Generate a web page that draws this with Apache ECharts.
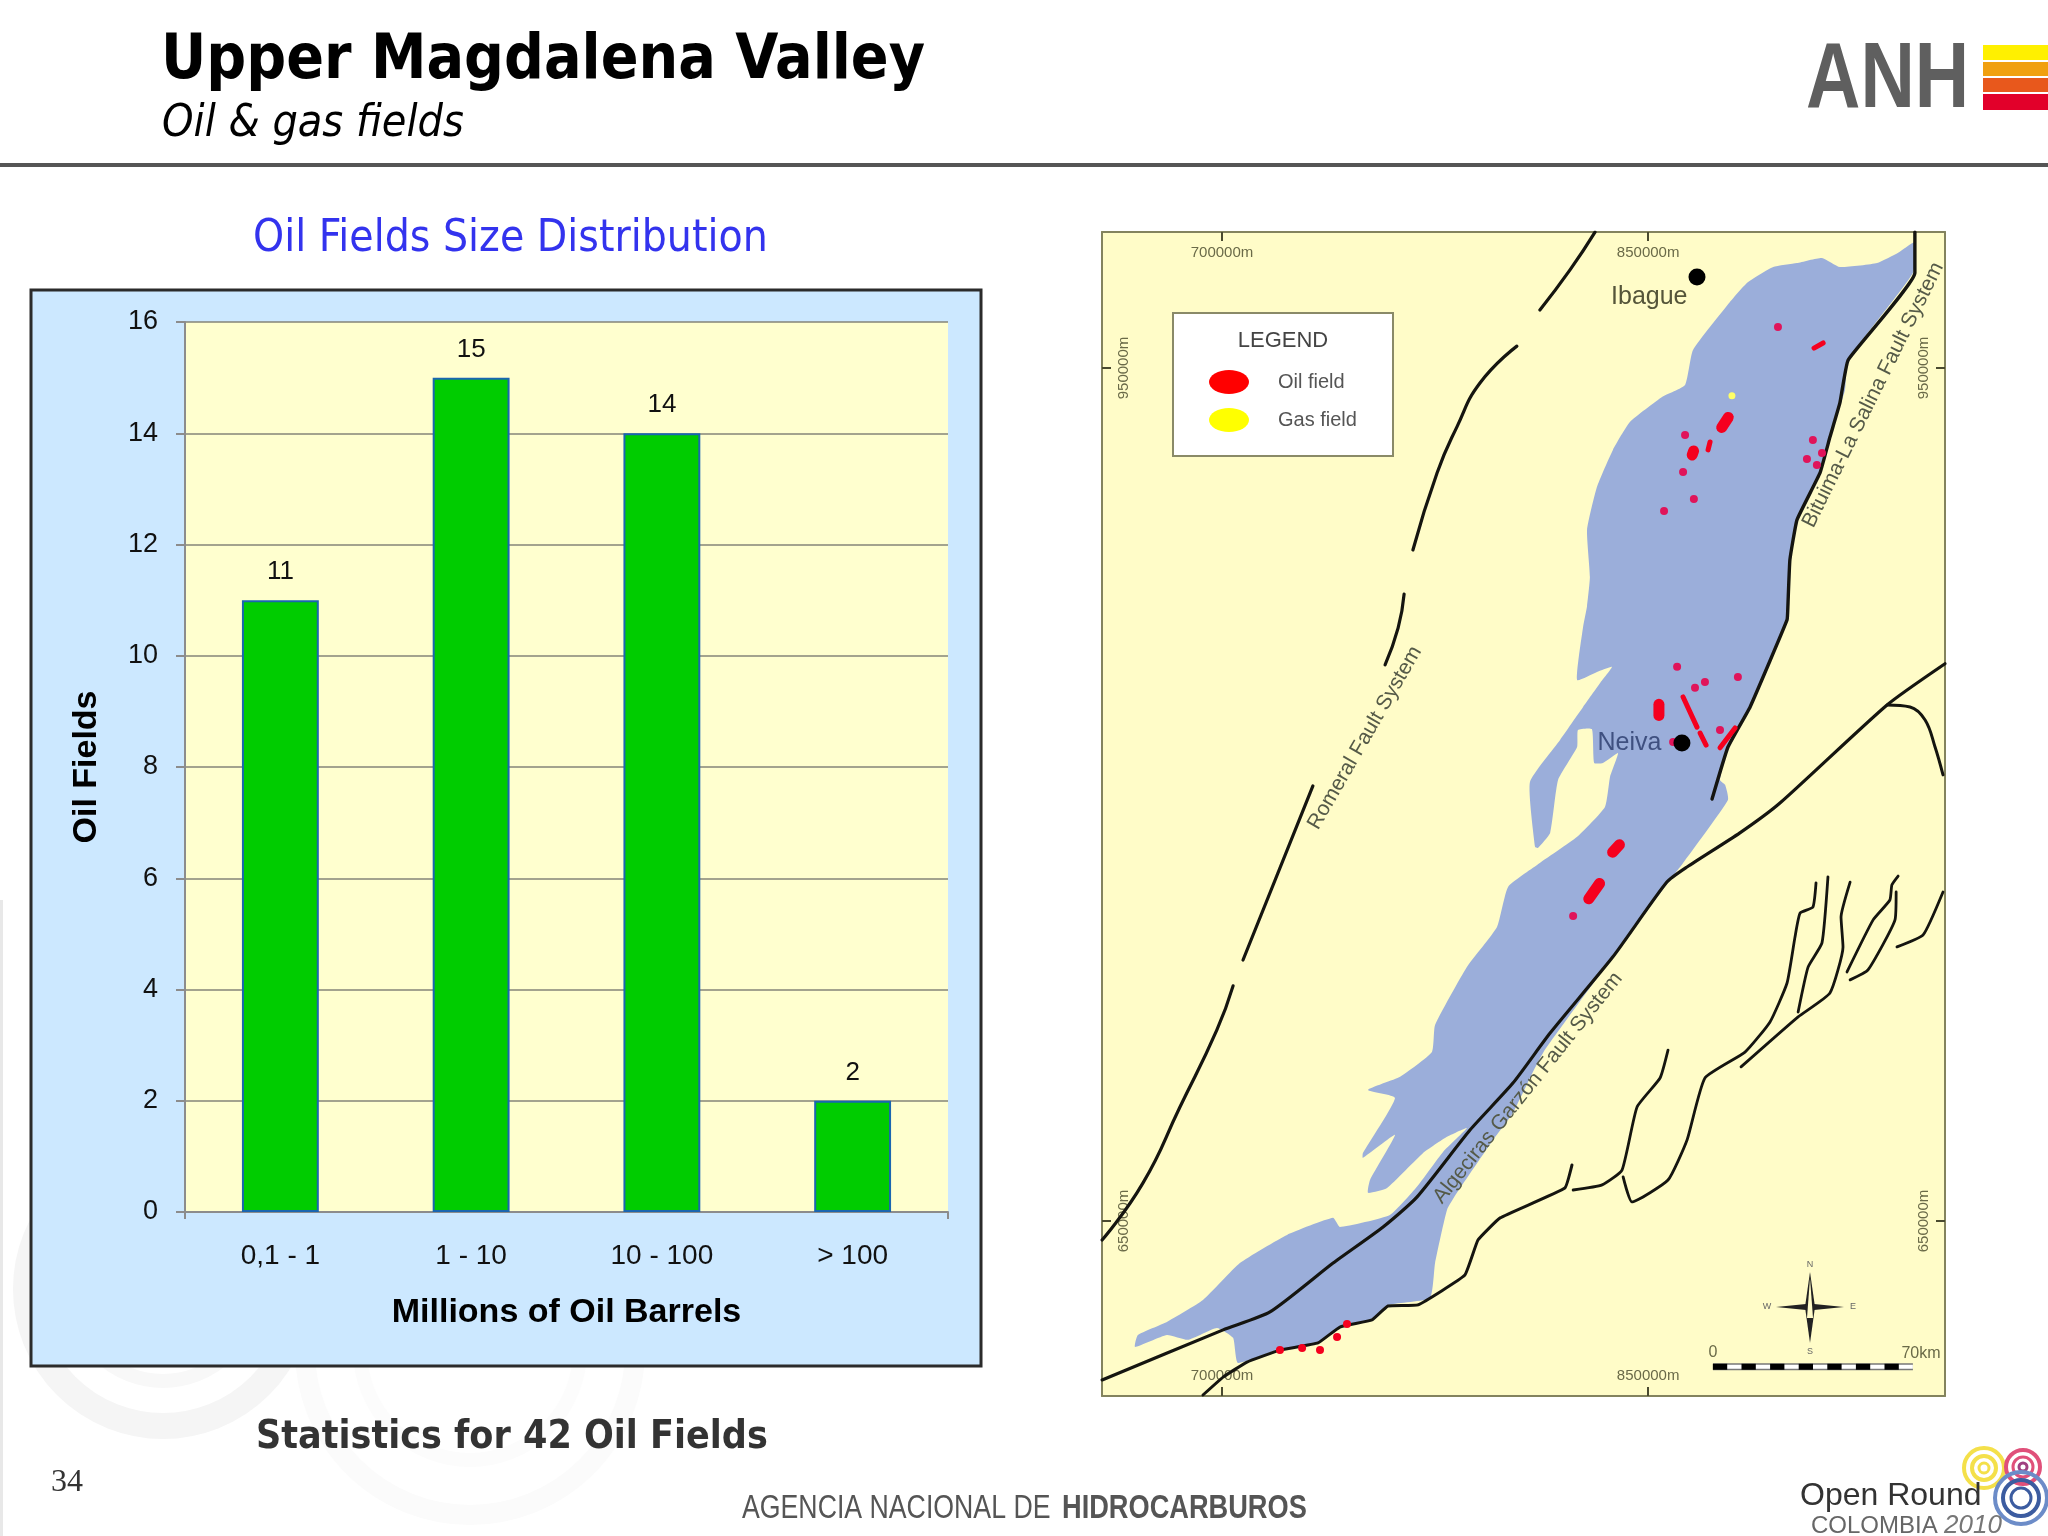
<!DOCTYPE html>
<html>
<head>
<meta charset="utf-8">
<style>
  html, body { margin: 0; background: #fff; }
  #main { width: 2048px; height: 1536px; }
</style>
<script src="https://cdn.jsdelivr.net/npm/echarts@6/dist/echarts.min.js"></script>
</head>
<body>
<div id="main"></div>
<script>
// bar chart
const sizeClasses = ['0,1 - 1', '1 - 10', '10 - 100', '> 100'];
const oilFieldCounts = [11, 15, 14, 2];

// map, everything in km: [easting, northing]
const eastTicks = [700, 850];
const northTicks = [650, 950];
const basinOutline = [
  [943.9,994.3],[938.0,990.5],[930.6,986.9],[917.5,985.5],[911.2,988.7],[902.4,986.9],[894.0,985.5],[884.8,979.9],
  [878.8,973.2],[865.8,956.3],[863.0,944.0],[854.9,939.8],[843.6,931.0],[837.6,921.2],[832.0,908.2],[828.5,893.0],
  [829.5,876.5],[828.5,866.3],[827.1,858.9],[825.0,840.3],[832.0,843.1],[837.3,844.9],[833.1,839.2],[827.1,830.8],
  [819.0,819.2],[808.4,804.4],[810.2,781.5],[811.2,781.2],[815.5,786.5],[818.3,805.1],[825.0,816.7],[825.3,822.7],
  [830.2,823.0],[831.0,811.1],[834.1,811.1],[839.4,814.6],[836.6,806.2],[834.8,795.6],[825.0,785.1],[810.9,775.2],
  [800.7,767.5],[796.8,753.4],[786.2,739.3],[775.0,718.9],[773.9,709.4],[762.7,700.7],[751.4,696.1],[760.9,693.3],
  [749.6,673.9],[749.6,672.2],[760.9,680.3],[752.1,664.4],[751.4,659.9],[758.1,661.6],[770.8,673.9],[779.2,679.6],
  [786.2,682.7],[777.8,674.3],[768.6,662.0],[759.1,652.1],[741.5,647.9],[739.1,651.1],[722.9,645.1],[706.3,635.2],
  [693.3,622.2],[680.6,614.5],[670.4,609.9],[669.4,605.7],[680.6,609.9],[688.0,608.2],[698.2,612.4],[703.9,608.9],
  [705.6,600.1],[719.4,604.6],[733.4,607.1],[742.6,613.4],[752.1,615.2],[759.1,620.5],[773.2,622.9],[775.0,635.2],
  [779.2,653.9],[782.7,659.9],[795.4,678.5],[802.4,688.0],[813.0,709.1],[857.7,769.9],[862.3,775.9],[878.1,798.1],
  [877.1,803.4],[875.3,805.1],[878.1,816.7],[885.9,830.8],[898.9,861.4],[899.2,866.3],[899.9,882.5],[902.4,896.6],
  [910.5,913.1],[915.1,929.3],[919.3,942.3],[920.4,952.8],[943.2,983.4]
];
const algecirasFault = [[657.8,594.1],[700.4,611.7],[716.9,618.0],[739.1,635.2],[756.7,647.9],[768.6,658.4],[787.3,682.0],[802.4,698.5],[815.5,716.1],[837.6,742.9],[856.6,769.2],[863.7,774.5],[882.3,786.5],[896.4,797.0],[934.1,831.5],[954.5,846.0]];
const algecirasBranch = [[934.1,831.5],[942.2,830.8],[947.5,826.2],[951.0,816.7],[953.8,806.9]];
const bituimaFault = [[943.9,997.8],[943.9,983.4],[920.4,952.8],[917.5,937.7],[914.0,925.7],[910.5,913.1],[902.4,896.6],[899.9,882.5],[899.2,866.3],[898.9,861.4],[885.9,830.8],[878.1,816.7],[872.5,798.4]];
const southFault = [[693.3,588.8],[700.4,595.1],[708.8,600.4],[720.4,604.6],[733.8,607.1],[741.5,612.7],[752.8,615.2],[758.4,620.1],[769.0,620.5],[785.5,631.0],[790.1,643.3],[797.9,651.1],[820.7,661.6],[823.2,669.7]];
const minorFaults = [
  [[823.6,660.9],[833.8,662.7],[840.8,667.9],[846.1,690.1],[854.2,700.3],[857.0,710.1]],
  [[841.2,665.5],[844.3,656.7],[857.0,664.4],[863.7,678.5],[870.0,700.3],[884.1,709.4],[892.9,720.0],[898.9,733.7],[901.7,749.9],[903.5,758.3],[908.0,760.4],[909.1,768.9]],
  [[882.7,704.2],[902.8,721.8],[914.0,730.2],[918.6,746.4],[917.9,756.9],[921.1,769.2]],
  [[902.8,723.5],[906.3,739.3],[911.2,747.8],[913.3,771.0]],
  [[920.0,737.6],[929.2,755.9],[935.1,762.9],[935.8,768.2],[938.0,771.3]],
  [[921.1,734.8],[927.4,738.3],[936.9,755.9],[937.3,765.7]],
  [[937.6,746.4],[946.8,750.6],[953.8,765.7]]
];
const romeralFault = [
  [[657.8,643.3],[672.2,663.4],[685.2,690.1],[698.2,717.2],[703.9,732.7]],
  [[707.4,741.8],[732.0,803.0]],
  [[764.1,870.5],[762.0,858.6],[757.4,845.6]],
  [[767.2,886.0],[775.7,913.1],[782.7,929.3],[790.8,944.7],[803.8,957.7]],
  [[811.9,970.4],[822.5,984.5],[831.3,997.8]]
];
const oilFieldsSmall = [
  [895.7,964.4],[863.0,926.4],[862.3,913.4],[866.1,903.9],[855.6,899.7],[908.0,924.7],[905.9,918.0],[911.2,920.1],
  [909.4,915.9],[860.2,844.9],[881.6,841.3],[870.0,839.6],[866.5,837.5],[858.8,818.5],[875.3,822.7],[823.6,757.3]
];
const oilFieldsSouth = [[720.4,604.6],[728.2,605.3],[734.5,604.6],[740.5,609.2],[744.0,613.8]];
const oilFieldsThin = [
  [[908.4,957.0],[911.6,958.8]],[[871.1,921.2],[871.8,924.0]],[[862.3,834.3],[867.2,823.7]],
  [[868.3,821.6],[870.4,817.4]],[[875.3,816.4],[880.6,823.4]]
];
const oilFieldsLarge = [
  [[875.9,929.1],[878.2,932.6]],[[865.5,919.4],[866.0,920.8]],[[853.8,831.7],[853.8,827.8]],
  [[837.5,779.7],[839.9,782.3]],[[829.1,763.3],[832.9,768.7]]
];
const gasFields = [[879.5,940.2]];
const cities = [[867.2,982.0,'Ibague'],[861.9,818.1,'Neiva']];
const faultLabels = [
  [929.2,940.5,63.6,'Bituima-La Salina Fault System'],
  [807.7,696.8,51.3,'Algeciras Garzón Fault System'],
  [750.3,819.9,60,'Romeral Fault System']
];
const scaleBar = [[872.8,598.7],[943.2,598.7]];

const mapInk = '#6a6a48';
const sans = '"DejaVu Sans Condensed","DejaVu Sans"';
const arial = '"Liberation Sans"';

const chartDom = document.getElementById('main');
const myChart = echarts.init(chartDom);

function txt(x, y, text, font, fill, align, scaleX) {
  return { type: 'text', x: x, y: y, z: 20, silent: true, scaleX: scaleX || 1,
    style: { text: text, font: font, fill: fill, textAlign: align || 'left', textVerticalAlign: 'middle' } };
}
function box(x, y, w, h, fill, z, stroke, lw) {
  return { type: 'rect', z: z, silent: true, shape: { x: x, y: y, width: w, height: h },
    style: { fill: fill, stroke: stroke || null, lineWidth: lw || 0 } };
}
function ring(cx, cy, r, color, lw, z) {
  return { type: 'circle', z: z, silent: true, shape: { cx: cx, cy: cy, r: r },
    style: { fill: null, stroke: color, lineWidth: lw } };
}
function poly(pts, fill) {
  return { type: 'polygon', z: 20, silent: true, shape: { points: pts }, style: { fill: fill } };
}

const graphics = [
  // watermark behind the panel
  ring(163, 1289, 137, '#f5f5f5', 26, -5), ring(163, 1289, 92, '#f8f8f8', 14, -5),
  ring(470, 1350, 165, '#fbfbfb', 20, -5), ring(470, 1350, 110, '#fcfcfc', 14, -5),
  box(0, 900, 3, 636, '#e8e8e8', -5),
  box(0, 163, 2048, 4, '#555', 5),
  box(31, 290, 950, 1076, '#cce8ff', -2, '#2b2b2b', 3),

  txt(161, 62, 'Upper Magdalena Valley', 'bold 62px ' + sans, '#000'),
  txt(162, 124, 'Oil & gas fields', 'italic 44.5px ' + sans, '#000'),
  txt(253, 240, 'Oil Fields Size Distribution', '44px ' + sans, '#3333ee'),
  txt(256, 1438, 'Statistics for 42 Oil Fields', 'bold 39px ' + sans, '#333'),
  txt(51, 1483, '34', '32px "Liberation Serif"', '#333'),
  txt(742, 1509, 'AGENCIA NACIONAL DE', '34px ' + arial, '#555', 'left', 0.785),
  txt(1062, 1509, 'HIDROCARBUROS', 'bold 34px ' + arial, '#555', 'left', 0.8),

  // ANH logo
  txt(1806, 81, 'ANH', 'bold 93px ' + arial, '#5f5f5f', 'left', 0.81),
  box(1983, 45, 65, 16, '#fff000', 5), box(1983, 61, 65, 16, '#f0a010', 5),
  box(1983, 77, 65, 16, '#e8581c', 5), box(1983, 93, 65, 17, '#e2002a', 5),
  box(1983, 60, 65, 2, '#fff', 6), box(1983, 76, 65, 2, '#fff', 6), box(1983, 92, 65, 2, '#fff', 6),

  // Open Round logo
  ring(1984, 1468, 20, '#f4e04a', 4, 5), ring(1984, 1468, 12, '#f4e04a', 4, 5), ring(1984, 1468, 5, '#f4e04a', 3, 5),
  ring(2023, 1467, 17, '#e0507a', 4, 5), ring(2023, 1467, 10, '#e0507a', 3, 5), ring(2023, 1467, 4, '#a04080', 3, 5),
  ring(2021, 1498, 26, '#6c8cc8', 4, 5), ring(2021, 1498, 18, '#3c5ca0', 4, 5), ring(2021, 1498, 10, '#3c5ca0', 3, 5),
  txt(1800, 1496, 'Open Round', '32px ' + arial, '#333'),
  txt(1811, 1526, 'COLOMBIA', '24px ' + arial, '#666'),
  txt(1944, 1526, '2010', 'italic 26px ' + arial, '#777'),

  // map legend box
  box(1173, 313, 220, 143, '#fff', 9, '#8a8a68', 2),
  txt(1283, 341, 'LEGEND', '22px ' + arial, '#444', 'center'),

  // compass
  poly([[1810, 1272], [1805, 1307], [1815, 1307]], '#222'),
  poly([[1810, 1343], [1805, 1307], [1815, 1307]], '#222'),
  poly([[1776, 1307], [1806, 1304], [1806, 1310]], '#222'),
  poly([[1844, 1307], [1814, 1304], [1814, 1310]], '#222'),
  poly([[1810, 1278], [1807, 1318], [1813, 1318]], '#fffcc8'),
  txt(1810, 1265, 'N', '9px ' + arial, '#666', 'center'),
  txt(1810, 1352, 'S', '9px ' + arial, '#666', 'center'),
  txt(1767, 1307, 'W', '9px ' + arial, '#666', 'center'),
  txt(1853, 1307, 'E', '9px ' + arial, '#666', 'center'),
  txt(1713, 1353, '0', '16px ' + arial, mapInk, 'center'),
  txt(1921, 1354, '70km', '16px ' + arial, mapInk, 'center')
];

function faultSeries(points, width, smooth) {
  return {
    type: 'line', xAxisIndex: 1, yAxisIndex: 1, data: points, showSymbol: false, silent: true,
    smooth: smooth || 0,
    lineStyle: { color: '#151510', width: width || 3.2, cap: 'round', join: 'round' }, z: 4
  };
}
function fieldLine(points, width) {
  return {
    name: 'Oil field', type: 'line', xAxisIndex: 1, yAxisIndex: 1, data: points, showSymbol: false, silent: true,
    itemStyle: { color: '#ff0000' },
    lineStyle: { color: '#f5001e', width: width, cap: 'round' }, z: 6
  };
}
function mapAxis(pos, values, isX) {
  return {
    type: 'value', gridIndex: 1, position: pos,
    min: isX ? 657.76 : 588.45, max: isX ? 954.5 : 997.83,
    splitLine: { show: false },
    axisLine: { show: true, onZero: false, lineStyle: { color: '#83835e', width: 2 } },
    axisTick: { show: true, inside: true, length: 9, customValues: values, lineStyle: { color: '#4a4a30', width: 2 } },
    axisLabel: {
      show: true, inside: true, margin: isX ? 13 : 14, customValues: values, rotate: isX ? 0 : 90,
      color: mapInk, fontSize: 15, fontFamily: 'Liberation Sans', formatter: v => (v * 1000) + 'm'
    }
  };
}

const series = [
  {
    name: 'Oil Fields', type: 'bar', data: oilFieldCounts, barWidth: '40.3%',
    itemStyle: { color: '#00cc00', borderColor: '#1a66b0', borderWidth: 2 },
    label: { show: true, position: 'top', distance: 15, color: '#111', fontSize: 26, fontFamily: 'Liberation Sans' }
  },
  {
    type: 'custom', xAxisIndex: 1, yAxisIndex: 1, data: basinOutline, silent: true, z: 2,
    encode: { x: 0, y: 1 },
    renderItem: (params, api) => {
      if (params.dataIndex !== 0) return null;
      return {
        type: 'polygon',
        shape: { points: basinOutline.map(p => api.coord(p)), smooth: 0.15 },
        style: { fill: '#9baeda' }
      };
    }
  },
  faultSeries(algecirasFault, 3.2, 0.2), faultSeries(algecirasBranch, 3, 0.4), faultSeries(bituimaFault, 3.4, 0.1),
  faultSeries(southFault, 3, 0.1),
  ...minorFaults.map(p => faultSeries(p, 2.8, 0.15)),
  ...romeralFault.map(p => faultSeries(p, 3.2, 0.5)),
  {
    name: 'Oil field', type: 'scatter', xAxisIndex: 1, yAxisIndex: 1, data: oilFieldsSmall, symbolSize: 8, silent: true,
    itemStyle: { color: '#e0145a', opacity: 1 }, z: 6
  },
  {
    name: 'Oil field', type: 'scatter', xAxisIndex: 1, yAxisIndex: 1, data: oilFieldsSouth, symbolSize: 8, silent: true,
    itemStyle: { color: '#f5001e', opacity: 1 }, z: 6
  },
  ...oilFieldsThin.map(p => fieldLine(p, 5)),
  ...oilFieldsLarge.map(p => fieldLine(p, 11)),
  {
    name: 'Gas field', type: 'scatter', xAxisIndex: 1, yAxisIndex: 1, data: gasFields, symbolSize: 7, silent: true,
    itemStyle: { color: '#ffff66', opacity: 1 }, z: 6
  },
  {
    type: 'scatter', xAxisIndex: 1, yAxisIndex: 1, symbolSize: 17, silent: true, z: 7,
    itemStyle: { color: '#000', opacity: 1 },
    data: cities.map((c, i) => ({
      value: [c[0], c[1]], name: c[2],
      label: { color: i === 0 ? '#55553a' : '#3f5080' }
    })),
    label: {
      show: true, position: 'left', distance: 12, formatter: '{b}', fontSize: 25,
      fontFamily: 'Liberation Sans'
    },
    labelLayout: p => p.dataIndex === 0 ? { dx: 11, dy: 20 } : { dx: 0, dy: 0 }
  },
  {
    type: 'custom', xAxisIndex: 1, yAxisIndex: 1, data: faultLabels.map(l => [l[0], l[1]]), silent: true, z: 8,
    encode: { x: 0, y: 1 },
    renderItem: (params, api) => {
      const l = faultLabels[params.dataIndex];
      const p = api.coord([l[0], l[1]]);
      return {
        type: 'text', x: p[0], y: p[1], rotation: l[2] * Math.PI / 180,
        style: { text: l[3], font: '21px "Liberation Sans"', fill: '#555a48', align: 'center', verticalAlign: 'middle' }
      };
    }
  },
  { type: 'line', xAxisIndex: 1, yAxisIndex: 1, data: scaleBar, showSymbol: false, silent: true, z: 5,
    lineStyle: { color: '#777', width: 7 } },
  { type: 'line', xAxisIndex: 1, yAxisIndex: 1, data: scaleBar, showSymbol: false, silent: true, z: 5,
    lineStyle: { color: '#fff', width: 4 } },
  { type: 'line', xAxisIndex: 1, yAxisIndex: 1, data: scaleBar, showSymbol: false, silent: true, z: 6,
    lineStyle: { color: '#000', width: 6, type: [14.3, 14.3] } }
];

let option = {
  animation: false,
  backgroundColor: '#fff',
  textStyle: { fontFamily: 'Liberation Sans' },
  graphic: { elements: graphics },
  legend: {
    left: 1204, top: 365, orient: 'vertical', selectedMode: false, z: 10,
    itemWidth: 40, itemHeight: 25, itemGap: 14,
    textStyle: { fontSize: 20, color: '#555', padding: [0, 0, 0, 24] },
    data: [
      { name: 'Oil field', icon: 'path://M0 12a20 12 0 1 0 40 0a20 12 0 1 0 -40 0z', itemStyle: { color: '#ff0000', opacity: 1 } },
      { name: 'Gas field', icon: 'path://M0 12a20 12 0 1 0 40 0a20 12 0 1 0 -40 0z', itemStyle: { color: '#ffff00', opacity: 1 } }
    ]
  },
  grid: [
    { left: 185, right: 1100, top: 322, bottom: 324, show: true, backgroundColor: '#ffffcf', borderWidth: 0 },
    { left: 1102, right: 103, top: 232, bottom: 140, show: true, backgroundColor: '#fffcc8', borderWidth: 0 }
  ],
  xAxis: [
    {
      type: 'category', data: sizeClasses, gridIndex: 0,
      name: 'Millions of Oil Barrels', nameLocation: 'middle', nameGap: 84,
      nameTextStyle: { fontSize: 34, fontWeight: 'bold', color: '#000' },
      axisLine: { lineStyle: { color: '#8c8c8c', width: 2 } },
      axisTick: { show: true, length: 7, interval: i => i === 0, lineStyle: { color: '#8c8c8c', width: 2 } },
      axisLabel: { color: '#111', fontSize: 28, margin: 30 }
    },
    mapAxis('top', eastTicks, true),
    mapAxis('bottom', eastTicks, true)
  ],
  yAxis: [
    {
      type: 'value', gridIndex: 0, min: 0, max: 16, interval: 2,
      name: 'Oil Fields', nameLocation: 'middle', nameGap: 81,
      nameTextStyle: { fontSize: 34, fontWeight: 'bold', color: '#000' },
      axisLine: { show: true, lineStyle: { color: '#8c8c8c', width: 2 } },
      axisTick: { show: true, length: 9, lineStyle: { color: '#8c8c8c', width: 2 } },
      axisLabel: { color: '#111', fontSize: 27, margin: 27 },
      splitLine: { lineStyle: { color: '#858578', width: 1.5 } }
    },
    mapAxis('left', northTicks, false),
    mapAxis('right', northTicks, false)
  ],
  series: series
};

myChart.setOption(option);
</script>
</body>
</html>
